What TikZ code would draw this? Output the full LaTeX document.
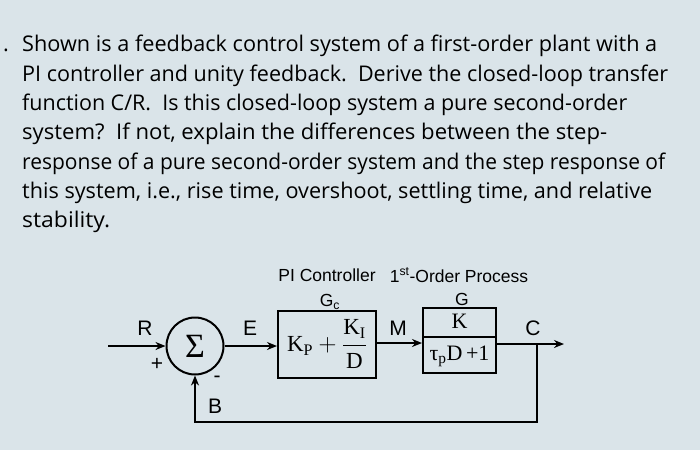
\documentclass[tikz,border=0pt]{standalone}
\usepackage{amsmath}
\usepackage{graphicx}
\usepackage{fontspec}
\setmainfont{Liberation Sans}
\newfontfamily\textfnt{Open Sans}
\newfontfamily\serfnt{Liberation Serif}
\usetikzlibrary{arrows.meta}
\definecolor{bg}{HTML}{DAE4E9}
\newcommand{\fitline}[2]{\resizebox{#1}{\height}{#2}}
\begin{document}
\begin{tikzpicture}[x=1pt,y=-1pt,
  ln/.style={line width=2pt},
  arr/.style={line width=2pt,-{Stealth[length=10pt,width=8pt]}},
  para/.style={anchor=base west,inner sep=0,font=\textfnt\fontsize{21.6}{24}\selectfont},
  lbl/.style={inner sep=0,font=\fontsize{21}{22}\selectfont},
  sml/.style={inner sep=0,font=\fontsize{17.5}{18}\selectfont},
  ser/.style={inner sep=0,font=\serfnt\fontsize{23}{24}\selectfont},
  blk/.style={draw,line width=2pt,inner sep=0},
]
\fill[bg] (0,0) rectangle (700,450);
\useasboundingbox (0,0) rectangle (700,450);
% paragraph
\node[para] (dot) at (3,51) {.};
\node[para] (t1) at (22,51) {\fitline{635pt}{Shown is a feedback control system of a first-order plant with a}};
\node[para] (t2) at (22,81) {\fitline{646pt}{PI controller and unity feedback.\ \ Derive the closed-loop transfer}};
\node[para] (t3) at (22,110) {\fitline{605pt}{function C/R.\ \ Is this closed-loop system a pure second-order}};
\node[para] (t4) at (22,139) {\fitline{585pt}{system?\ \ If not, explain the differences between the step-}};
\node[para] (t5) at (22,169) {\fitline{643pt}{response of a pure second-order system and the step response of}};
\node[para] (t6) at (22,198) {\fitline{630pt}{this system, i.e., rise time, overshoot, settling time, and relative}};
\node[para] (t7) at (22,227) {\fitline{88pt}{stability.}};
% block diagram
\coordinate (in) at (108,346);
\node[draw,ln,circle,minimum size=57pt,inner sep=0] (sum) at (195,346) {\serfnt\fontsize{34}{34}\selectfont Σ};
\node[blk,minimum width=98pt,minimum height=67pt] (gc) at (327,344) {};
\node[ser] (gctxt) at (327,344) {$\text{K}_{\text{P}}+\dfrac{\text{K}_{\text{I}}}{\text{D}}$};
\node[blk,minimum width=73pt,minimum height=65pt] (g) at (459.5,340.5) {};
\draw[ln] (g.west |- 0,337) -- (g.east |- 0,337);
\node[ser,font=\serfnt\fontsize{22}{22}\selectfont] (gnum) at (459.5,321) {K};
\node[ser,font=\serfnt\fontsize{22}{22}\selectfont] (gden) at (459.5,356) {τ\textsubscript{p}D\,+1};
\coordinate (br) at (537,344);
\coordinate (out) at (564,344);
\draw[arr] (in) -- (sum);
\draw[arr] (sum) -- (gc.west |- sum);
\draw[arr] (gc.east |- 0,343) -- (g.west |- 0,343);
\draw[arr] (g.east |- br) -- (out);
\draw[arr] (br) |- (sum.south |- 0,422) -- (sum.south);
% labels
\node[lbl] (lR) at (145,328) {R};
\node[lbl] (lp) at (157,364) {+};
\node[lbl] (lE) at (250,328) {E};
\node[lbl] (lM) at (398,328) {M};
\node[lbl] (lC) at (533,328) {C};
\node[lbl] (lm) at (217,379) {-};
\node[lbl] (lB) at (215,406) {B};
\node[sml] (lGc) at (330,302) {G\textsubscript{c}};
\node[sml] (lG) at (462,299) {G};
\node[sml] (lPI) at (327,275) {PI Controller};
\node[sml] (lOP) at (459,275) {1\textsuperscript{st}-Order Process};
\end{tikzpicture}
\end{document}
